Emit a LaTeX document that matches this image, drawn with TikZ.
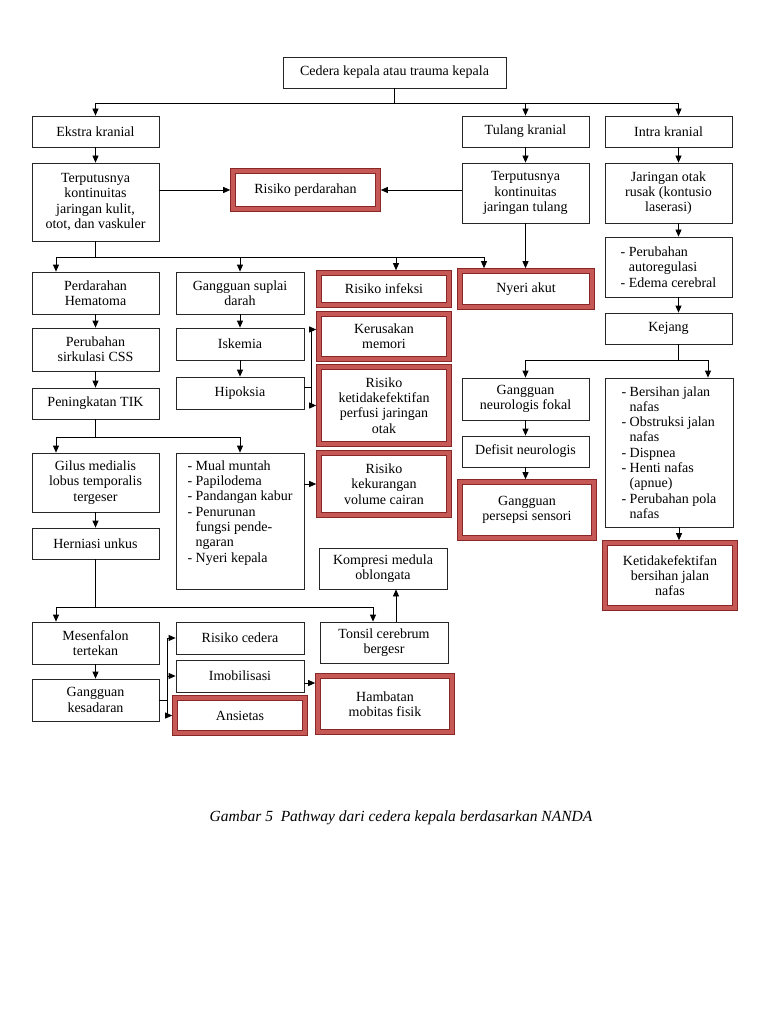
\documentclass[tikz,border=0pt]{standalone}
\usepackage{fontspec}
\setmainfont{Liberation Serif}
\usetikzlibrary{arrows.meta, positioning}
\definecolor{riskdark}{RGB}{135,40,38}
\definecolor{riskred}{RGB}{198,88,85}

\begin{document}
\begin{tikzpicture}[x=1pt, y=-1pt]
  % Define style for the boxes and connectors
  \tikzstyle{box}=[draw=black!85, line width=0.8pt, fill=white, align=center, inner sep=2pt, font=\fontsize{14}{15.3}\selectfont]
  \tikzstyle{risk}=[box, draw=riskdark, line width=0.5pt, double=riskred, double distance=4.6pt, outer sep=2.8pt]
  \tikzstyle{flow}=[draw, line width=0.8pt, -{Triangle[length=7pt, width=6pt]}]

  \useasboundingbox (0,0) rectangle (768,1024);

  % Top
  \node[box, minimum width=223, minimum height=31] (trauma) at (394.5,72.5) {Cedera kepala atau trauma kepala};
  \node[box, minimum width=127, minimum height=31] (ekstra) at (95.5,131.5) {Ekstra kranial};
  \node[box, minimum width=127, minimum height=31] (tulang) at (525.5,131.5) {Tulang kranial};
  \node[box, minimum width=127, minimum height=31] (intra) at (668.5,131.5) {Intra kranial};

  \node[box, minimum width=127, minimum height=78] (putuskulit) at (95.5,202) {Terputusnya\\kontinuitas\\jaringan kulit,\\otot, dan vaskuler};
  \node[risk, minimum width=145, minimum height=38] (perdarahan) at (305.5,190) {Risiko perdarahan};
  \node[box, minimum width=127, minimum height=60] (putustulang) at (525.5,193) {Terputusnya\\kontinuitas\\jaringan tulang};
  \node[box, minimum width=127, minimum height=60] (otak) at (668.5,193) {Jaringan otak\\rusak (kontusio\\laserasi)};
  \node[box, align=left, minimum width=127, minimum height=60] (autoreg) at (668.5,267) {- Perubahan\\\phantom{- }autoregulasi\\- Edema cerebral};
  \node[box, minimum width=127, minimum height=31] (kejang) at (668.5,328.5) {Kejang};

  % Middle rows
  \node[box, minimum width=127, minimum height=42] (perdhem) at (95.5,293) {Perdarahan\\Hematoma};
  \node[box, minimum width=128, minimum height=42] (suplai) at (240,293) {Gangguan suplai\\darah};
  \node[risk, minimum width=130, minimum height=32] (infeksi) at (384,289) {Risiko infeksi};
  \node[risk, minimum width=132, minimum height=36] (nyeri) at (526,289) {Nyeri akut};

  \node[box, minimum width=127, minimum height=43] (sirkulasi) at (95.5,349.5) {Perubahan\\sirkulasi CSS};
  \node[box, minimum width=128, minimum height=32] (iskemia) at (240,344) {Iskemia};
  \node[risk, minimum width=130, minimum height=45] (memori) at (384,336.5) {Kerusakan\\memori};
  \node[box, minimum width=127, minimum height=31] (tik) at (95.5,403.5) {Peningkatan TIK};
  \node[box, minimum width=128, minimum height=32] (hipoksia) at (240,393) {Hipoksia};
  \node[risk, minimum width=130, minimum height=77] (perfusi) at (384,405.5) {Risiko\\ketidakefektifan\\perfusi jaringan\\otak};

  \node[box, minimum width=127, minimum height=59] (gilus) at (95.5,482.5) {Gilus medialis\\lobus temporalis\\tergeser};
  \node[box, align=left, minimum width=128, minimum height=136] (mual) at (240,521) {- Mual muntah\\- Papilodema\\- Pandangan kabur\\- Penurunan\\\phantom{- }fungsi pende-\\\phantom{- }ngaran\\- Nyeri kepala\\[4pt]\mbox{}};
  \node[risk, minimum width=130, minimum height=62] (cairan) at (384,484) {Risiko\\kekurangan\\volume cairan};
  \node[box, minimum width=127, minimum height=31] (herniasi) at (95.5,543.5) {Herniasi unkus};
  \node[box, minimum width=128, minimum height=41] (kompresi) at (383,568.5) {Kompresi medula\\oblongata};

  % Right column
  \node[box, minimum width=127, minimum height=42] (neurofokal) at (525.5,399) {Gangguan\\neurologis fokal};
  \node[box, minimum width=127, minimum height=31] (defisit) at (525.5,451.5) {Defisit neurologis};
  \node[risk, minimum width=134, minimum height=56] (persepsi) at (527,510) {Gangguan\\persepsi sensori};
  \node[box, align=left, minimum width=128, minimum height=149] (bersihan) at (669,452.5) {- Bersihan jalan\\\phantom{- }nafas\\- Obstruksi jalan\\\phantom{- }nafas\\- Dispnea\\- Henti nafas\\\phantom{- }(apnue)\\- Perubahan pola\\\phantom{- }nafas};
  \node[risk, minimum width=130, minimum height=65] (ketidak) at (670,575.5) {Ketidakefektifan\\bersihan jalan\\nafas};

  % Bottom
  \node[box, minimum width=127, minimum height=42] (mesenfalon) at (95.5,643) {Mesenfalon\\tertekan};
  \node[box, minimum width=127, minimum height=42] (kesadaran) at (95.5,700) {Gangguan\\kesadaran};
  \node[box, minimum width=128, minimum height=32] (cedera) at (240,638) {Risiko cedera};
  \node[box, minimum width=128, minimum height=32] (imobilisasi) at (240,676) {Imobilisasi};
  \node[risk, minimum width=130, minimum height=35] (ansietas) at (240,715.5) {Ansietas};
  \node[box, minimum width=128, minimum height=41] (tonsil) at (384,642.5) {Tonsil cerebrum\\bergesr};
  \node[risk, minimum width=134, minimum height=56] (hambatan) at (385,704) {Hambatan\\mobitas fisik};

  \node[font=\fontsize{15.5}{17}\selectfont\itshape] (caption) at (401,818) {Gambar 5\ \ Pathway dari cedera kepala berdasarkan NANDA};

  % Junctions
  \coordinate (split1) at (394.5,103);
  \coordinate (split2) at (95.5,257);
  \coordinate (split3) at (311,387);
  \coordinate (split4) at (95.5,437);
  \coordinate (split5) at (95.5,607);
  \coordinate (split6) at (167,700);
  \coordinate (split7) at (678.5,360);

  % Connectors
  \draw[line width=0.8pt] (trauma.south) -- (split1);
  \draw[flow] (split1) -| (ekstra.north);
  \draw[flow] (split1) -| (tulang.north);
  \draw[flow] (split1) -| ([xshift=10]intra.north);

  \draw[flow] (ekstra) -- (putuskulit);
  \draw[flow] (tulang) -- (putustulang);
  \draw[flow] ([xshift=10]intra.south) -- ([xshift=10]otak.north);
  \draw[flow] ([xshift=10]otak.south) -- ([xshift=10]autoreg.north);
  \draw[flow] ([xshift=10]autoreg.south) -- ([xshift=10]kejang.north);
  \draw[flow] (putuskulit.east |- perdarahan.west) -- (perdarahan.west);
  \draw[flow] (putustulang.west |- perdarahan.east) -- (perdarahan.east);
  \draw[flow] (putustulang.south) -- (putustulang.south |- nyeri.north);

  \draw[line width=0.8pt] (putuskulit.south) -- (split2);
  \draw[flow] (split2) -| ([xshift=-39.5]perdhem.north);
  \draw[flow] (split2) -| (suplai.north);
  \draw[flow] (split2) -| ([xshift=12]infeksi.north);
  \draw[flow] (split2) -| ([xshift=-42]nyeri.north);

  \draw[flow] (perdhem) -- (sirkulasi);
  \draw[flow] (sirkulasi) -- (tik);
  \draw[flow] (suplai) -- (iskemia);
  \draw[flow] (iskemia) -- (hipoksia);
  \draw[line width=0.8pt] (hipoksia.east |- split3) -- (split3);
  \draw[flow] (split3) |- ([yshift=7]memori.west);
  \draw[flow] (split3) |- (perfusi.west);

  \draw[line width=0.8pt] (tik.south) -- (split4);
  \draw[flow] (split4) -| ([xshift=-39.5]gilus.north);
  \draw[flow] (split4) -| (mual.north);
  \draw[flow] (mual.east |- cairan.west) -- (cairan.west);
  \draw[flow] (gilus) -- (herniasi);

  \draw[line width=0.8pt] (herniasi.south) -- (split5);
  \draw[flow] (split5) -| ([xshift=-39.5]mesenfalon.north);
  \draw[flow] (split5) -| ([xshift=-11]tonsil.north);
  \draw[flow] ([xshift=12]tonsil.north) -- ([xshift=12]tonsil.north |- kompresi.south);
  \draw[flow] (mesenfalon) -- (kesadaran);

  \draw[line width=0.8pt] (kesadaran.east) -- (split6);
  \draw[flow] (split6) |- (cedera.west);
  \draw[flow] (split6) |- (imobilisasi.west);
  \draw[flow] (split6) |- (ansietas.west);
  \draw[flow] ([yshift=-7]imobilisasi.east) -- ([yshift=-7]imobilisasi.east -| hambatan.west);

  \draw[line width=0.8pt] ([xshift=10]kejang.south) -- (split7);
  \draw[flow] (split7) -| (neurofokal.north);
  \draw[flow] (split7) -| ([xshift=39]bersihan.north);
  \draw[flow] (neurofokal) -- (defisit);
  \draw[flow] (defisit.south) -- (defisit.south |- persepsi.north);
  \draw[flow] ([xshift=10]bersihan.south) -- ([xshift=10]bersihan.south |- ketidak.north);
\end{tikzpicture}
\end{document}
